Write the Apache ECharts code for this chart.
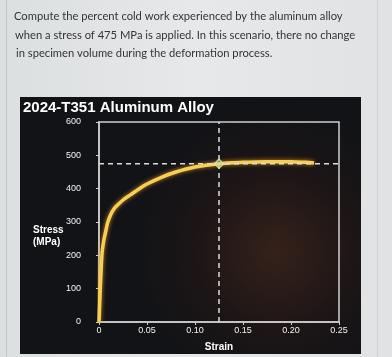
<!DOCTYPE html>
<html>
<head>
<meta charset="utf-8">
<script src="https://cdn.jsdelivr.net/npm/echarts@6/dist/echarts.min.js"></script>
<style>
html,body{margin:0;padding:0;background:#e2e4e5;}
#c{width:392px;height:357px;}
</style>
</head>
<body>
<div id="c"></div>
<script>
// ---- data ----
var questionLines = [
  "Compute the percent cold work experienced by the aluminum alloy",
  "when a stress of 475 MPa is applied. In this scenario, there no change",
  "in specimen volume during the deformation process."
];
var chartTitle = "2024-T351 Aluminum Alloy";
var strain = [0, 0.003, 0.005, 0.007, 0.009, 0.012, 0.015, 0.019, 0.025, 0.033, 0.042, 0.05, 0.065, 0.08, 0.1, 0.125, 0.15, 0.175, 0.2, 0.215, 0.224];
var stress = [0, 200, 245, 272, 298, 321, 337, 350, 366, 382, 400, 414, 434, 450, 465, 475, 479, 481, 481, 479, 477];
var refStrain = 0.125;
var refStress = 475;
var xTicks = [0, 0.05, 0.10, 0.15, 0.20, 0.25];
var yTicks = [0, 100, 200, 300, 400, 500, 600];
var xName = "Strain";
var yName = ["Stress", "(MPa)"];

var curve = strain.map(function (s, i) { return [s, stress[i]]; });
var xMin = xTicks[0], xMax = xTicks[xTicks.length - 1];
var yMin = yTicks[0], yMax = yTicks[yTicks.length - 1];

var chart = echarts.init(document.getElementById('c'));
var white = '#f2f2f2';
var qFont = '11.2px Lato, "Open Sans", sans-serif';
var option = {
  backgroundColor: '#e2e4e5',
  animation: false,
  graphic: [
    { type: 'rect', shape: { x: 0, y: 0, width: 392, height: 357 }, style: {
        fill: new echarts.graphic.LinearGradient(0, 0, 1, 0, [
          { offset: 0, color: '#dcdfe0' }, { offset: 0.5, color: '#e6e8e9' }, { offset: 1, color: '#e0e2e3' }]) }, z: -10 },
    { type: 'rect', shape: { x: 6, y: 0, width: 1, height: 357 }, style: { fill: '#c4c7c9' }, z: -9 },
    { type: 'rect', shape: { x: 377, y: 0, width: 1, height: 357 }, style: { fill: '#cfd2d3' }, z: -9 },
    { type: 'text', left: 14, top: 11, style: { text: questionLines[0], fill: '#333538', font: qFont } },
    { type: 'text', left: 15, top: 30, style: { text: questionLines[1], fill: '#333538', font: qFont } },
    { type: 'text', left: 16, top: 48, style: { text: questionLines[2], fill: '#333538', font: qFont } },
    { type: 'rect', shape: { x: 20, y: 97, width: 341, height: 257 }, style: {
        fill: new echarts.graphic.RadialGradient(0.75, 0.6, 0.55, [
          { offset: 0, color: '#35211a' }, { offset: 0.6, color: '#1b1516' }, { offset: 1, color: '#121317' }]) }, z: -5 },
    { type: 'text', left: 23, top: 100, style: { text: chartTitle, fill: '#ffffff', font: 'bold 15px "Liberation Sans", Arial, sans-serif' } },
    { type: 'text', left: 33, top: 224, style: { text: yName.join('\n'), fill: '#ffffff', lineHeight: 12, font: 'bold 10px "Liberation Sans", Arial, sans-serif' } }
  ],
  grid: { left: 99, right: 53, top: 122, bottom: 34, show: true, borderColor: '#cfcfcf', borderWidth: 1.5, backgroundColor: 'transparent' },
  xAxis: {
    type: 'value', min: xMin, max: xMax, interval: 0.05,
    name: xName, nameLocation: 'middle', nameGap: 20,
    nameTextStyle: { color: '#ffffff', fontWeight: 'bold', fontSize: 10, fontFamily: '"Liberation Sans", Arial, sans-serif' },
    axisLine: { show: true, lineStyle: { color: '#cfcfcf', width: 1.5 } },
    axisTick: { show: true, length: 3, lineStyle: { color: '#cfcfcf' } },
    splitLine: { show: false },
    axisLabel: { color: white, fontSize: 9, margin: 4, fontFamily: '"Liberation Sans", Arial, sans-serif',
      formatter: function (v) { return v === 0 ? '0' : v.toFixed(2); } }
  },
  yAxis: {
    type: 'value', min: yMin, max: yMax, interval: 100,
    axisLine: { show: true, lineStyle: { color: '#cfcfcf', width: 1.5 } },
    axisTick: { show: true, length: 3, lineStyle: { color: '#cfcfcf' } },
    splitLine: { show: false },
    axisLabel: { color: white, fontSize: 9, margin: 18, fontFamily: '"Liberation Sans", Arial, sans-serif' }
  },
  series: [
    {
      type: 'line', data: curve, smooth: 0.3, showSymbol: false, z: 2,
      lineStyle: { color: '#f7cf55', width: 3.5, shadowBlur: 4, shadowColor: 'rgba(230,150,30,0.9)' }
    },
    {
      type: 'line', data: [[xMin, refStress], [xMax, refStress]], showSymbol: false, z: 3,
      lineStyle: { color: '#dcdcdc', width: 1.5, type: [5, 4] }
    },
    {
      type: 'line', data: [[refStrain, yMin], [refStrain, yMax]], showSymbol: false, z: 3,
      lineStyle: { color: '#dcdcdc', width: 1.5, type: [5, 4] }
    },
    {
      type: 'scatter', data: [[refStrain, refStress]], symbol: 'diamond', symbolSize: 9, z: 4,
      itemStyle: { color: 'rgba(190,215,130,0.55)', borderColor: '#d8eaa6', borderWidth: 1.5 }
    }
  ]
};
chart.setOption(option);
</script>
</body>
</html>
